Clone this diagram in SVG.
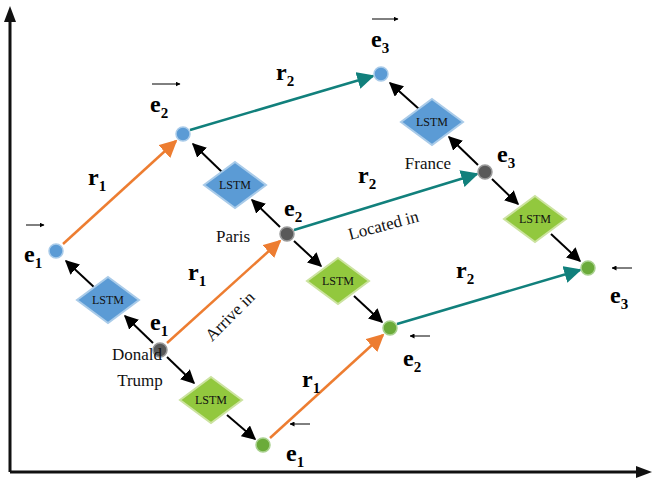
<svg xmlns="http://www.w3.org/2000/svg" width="658" height="488" viewBox="0 0 658 488">
<defs>
<marker id="ab" viewBox="0 0 10 10" refX="9" refY="5" markerWidth="7" markerHeight="7" orient="auto"><path d="M0,0L10,5L0,10z" fill="#000"/></marker>
<marker id="ao" viewBox="0 0 10 10" refX="9" refY="5" markerWidth="7" markerHeight="7" orient="auto"><path d="M0,0L10,5L0,10z" fill="#ed7d31"/></marker>
<marker id="at" viewBox="0 0 10 10" refX="9" refY="5" markerWidth="7" markerHeight="7" orient="auto"><path d="M0,0L10,5L0,10z" fill="#11807c"/></marker>
<marker id="av" viewBox="0 0 10 10" refX="9" refY="5" markerWidth="5" markerHeight="5" orient="auto"><path d="M0,0L10,5L0,10z" fill="#000"/></marker>
</defs>
<style>
.bk{stroke:#000;stroke-width:2;fill:none;marker-end:url(#ab)}
.or{stroke:#ed7d31;stroke-width:2.5;fill:none;marker-end:url(#ao)}
.tl{stroke:#11807c;stroke-width:2.5;fill:none;marker-end:url(#at)}
.vec{stroke:#000;stroke-width:1;marker-end:url(#av)}
.e{font-family:"Liberation Serif",serif;font-weight:bold;font-size:24px}
.s{font-size:15px}
.t{font-family:"Liberation Serif",serif;font-size:17px;fill:#111}
.lb{font-family:"Liberation Serif",serif;font-size:12px;text-anchor:middle;fill:#111}
.dB{fill:#5b9bd5;stroke:#a9cbe9;stroke-width:2}
.dG{fill:#92c83e;stroke:#cce3a0;stroke-width:2}
.g{fill:#595959;stroke:#9a9a9a;stroke-width:1.5}
.b{fill:#5b9bd5;stroke:#a9cbe9;stroke-width:1.5}
.gr{fill:#6bab3a;stroke:#a9d18e;stroke-width:1.5}
</style>
<g id="axes" stroke="#111" stroke-width="3" fill="none">
<path d="M10,472V18"/><path d="M10,472H642"/>
<path d="M4,22L10,6L16,22z" fill="#111" stroke="none"/>
<path d="M636,466L652,472L636,478z" fill="#111" stroke="none"/>
</g>
<g id="connectors">
<line class="bk" x1="153" y1="343" x2="125" y2="316"/>
<line class="bk" x1="95" y1="288" x2="66" y2="261"/>
<line class="bk" x1="167" y1="357" x2="194" y2="383"/>
<line class="bk" x1="227" y1="415" x2="255" y2="439"/>
<line class="bk" x1="280" y1="227" x2="252" y2="200"/>
<line class="bk" x1="222" y1="172" x2="193" y2="144"/>
<line class="bk" x1="294" y1="241" x2="321" y2="266"/>
<line class="bk" x1="354" y1="296" x2="382" y2="322"/>
<line class="bk" x1="478" y1="165" x2="449" y2="137"/>
<line class="bk" x1="419" y1="109" x2="390" y2="83"/>
<line class="bk" x1="492" y1="179" x2="518" y2="204"/>
<line class="bk" x1="551" y1="234" x2="580" y2="261"/>
<line class="or" x1="63" y1="244" x2="176" y2="141"/>
<line class="or" x1="167" y1="343" x2="280" y2="241"/>
<line class="or" x1="270" y1="438" x2="383" y2="335"/>
<line class="tl" x1="190" y1="130" x2="373" y2="76"/>
<line class="tl" x1="294" y1="230" x2="477" y2="174"/>
<line class="tl" x1="397" y1="324" x2="580" y2="270"/>
</g>
<g id="lstm1"><path class="dB" d="M108,277L139,300L108,323L77,300z"/><text class="lb" x="108" y="304">LSTM</text></g>
<g id="lstm2"><path class="dB" d="M235,162L266,185L235,208L204,185z"/><text class="lb" x="235" y="189">LSTM</text></g>
<g id="lstm3"><path class="dB" d="M432,99L463,122L432,145L401,122z"/><text class="lb" x="432" y="126">LSTM</text></g>
<g id="lstm4"><path class="dG" d="M211,377L242,400L211,423L180,400z"/><text class="lb" x="211" y="404">LSTM</text></g>
<g id="lstm5"><path class="dG" d="M338,258L369,281L338,304L307,281z"/><text class="lb" x="338" y="285">LSTM</text></g>
<g id="lstm6"><path class="dG" d="M535,196L566,219L535,242L504,219z"/><text class="lb" x="535" y="223">LSTM</text></g>
<g id="donald"><circle class="g" cx="160" cy="350" r="7"/><text class="t" x="137" y="360" text-anchor="middle">Donald</text><text class="t" x="140" y="386" text-anchor="middle">Trump</text><text class="e" x="150" y="330">e<tspan class="s" dy="6">1</tspan></text></g>
<g id="paris"><circle class="g" cx="287" cy="234" r="7"/><text class="t" x="233" y="242" text-anchor="middle">Paris</text><text class="e" x="284" y="216">e<tspan class="s" dy="6">2</tspan></text></g>
<g id="france"><circle class="g" cx="485" cy="172" r="7"/><text class="t" x="428" y="169" text-anchor="middle">France</text><text class="e" x="497" y="162">e<tspan class="s" dy="6">3</tspan></text></g>
<g id="fe1"><circle class="b" cx="56" cy="251" r="7"/><line class="vec" x1="26" y1="225" x2="44" y2="225"/><text class="e" x="24" y="262">e<tspan class="s" dy="6">1</tspan></text></g>
<g id="fe2"><circle class="b" cx="183" cy="134" r="7"/><line class="vec" x1="152" y1="84" x2="180" y2="84"/><text class="e" x="150" y="112">e<tspan class="s" dy="6">2</tspan></text></g>
<g id="fe3"><circle class="b" cx="381" cy="74" r="7"/><line class="vec" x1="372" y1="19" x2="398" y2="19"/><text class="e" x="371" y="47">e<tspan class="s" dy="6">3</tspan></text></g>
<g id="be1"><circle class="gr" cx="263" cy="445" r="7"/><line class="vec" x1="310" y1="424" x2="290" y2="424"/><text class="e" x="286" y="461">e<tspan class="s" dy="6">1</tspan></text></g>
<g id="be2"><circle class="gr" cx="390" cy="328" r="7"/><line class="vec" x1="430" y1="336" x2="410" y2="336"/><text class="e" x="403" y="366">e<tspan class="s" dy="6">2</tspan></text></g>
<g id="be3"><circle class="gr" cx="588" cy="268" r="7"/><line class="vec" x1="632" y1="268" x2="612" y2="268"/><text class="e" x="610" y="303">e<tspan class="s" dy="6">3</tspan></text></g>
<g id="rels">
<text class="e" x="88" y="185">r<tspan class="s" dy="6">1</tspan></text>
<text class="e" x="188" y="280">r<tspan class="s" dy="6">1</tspan></text>
<text class="e" x="302" y="387">r<tspan class="s" dy="6">1</tspan></text>
<text class="e" x="276" y="80">r<tspan class="s" dy="6">2</tspan></text>
<text class="e" x="358" y="183">r<tspan class="s" dy="6">2</tspan></text>
<text class="e" x="456" y="278">r<tspan class="s" dy="6">2</tspan></text>
<text class="t" transform="translate(212,342) rotate(-45)">Arrive in</text>
<text class="t" transform="translate(350,240) rotate(-15)">Located in</text>
</g>
</svg>
